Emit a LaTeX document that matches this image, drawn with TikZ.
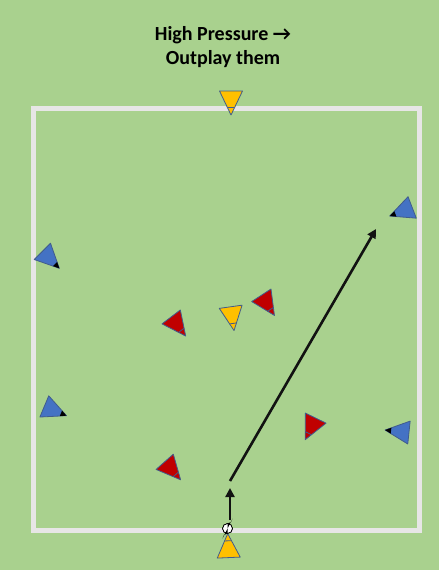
\documentclass[tikz,border=0pt]{standalone}
\usepackage{fontspec}
\setmainfont{Carlito}
\usetikzlibrary{arrows.meta}
\definecolor{grass}{RGB}{169,209,142}
\definecolor{chalk}{RGB}{231,230,230}
\definecolor{edge}{RGB}{65,92,140}
\definecolor{teamred}{RGB}{192,0,0}
\definecolor{teamyellow}{RGB}{255,192,0}
\definecolor{teamblue}{RGB}{68,114,196}
\tikzset{%
  pitch/.style  = {draw = chalk, line width = 5pt}, % Field lines
  plyr/.style   = {draw = edge, line width = 0.8pt, line join = round},
  run/.style    = {draw = black!93, line width = 2.6pt,
    -{Triangle[length = 9pt, width = 9pt]}}, % Movement
  title/.style  = {align = center, font = \fontsize{20}{24}\selectfont\bfseries}
}
% player with a line near its tip
\newcommand{\player}[4]{%
  \begin{scope}[shift = {(#2)}, rotate = #3]
    \coordinate (#1) at (0,0);
    \draw[plyr, fill = #4] (16,0) -- (-8,11.5) -- (-8,-11.5) -- cycle;
    \draw[plyr] (8.8,3.45) -- (8.8,-3.45);
  \end{scope}}
% player with a black tip
\newcommand{\outside}[3]{%
  \begin{scope}[shift = {(#2)}, rotate = #3]
    \coordinate (#1) at (0,0);
    \draw[plyr, fill = teamblue] (16,0) -- (-8,11.5) -- (-8,-11.5) -- cycle;
    \fill[black] (16,0) -- (10,2.9) -- (10,-2.9) -- cycle;
  \end{scope}}

\begin{document}
\begin{tikzpicture}[x = 1pt, y = -1pt]
\fill[grass] (0,0) rectangle (439,570);
\useasboundingbox (0,0) rectangle (439,570);
%field
\draw[pitch] (33.5,108.5) rectangle (419,530);
\node[title] (head) at (223,47) {High Pressure →\\Outplay them};
%players
\player{ytop}{231,99}{-90}{teamyellow}
\outside{bone}{404.7,210.3}{-159}
\outside{btwo}{48,257}{-45}
\player{rone}{176,323.3}{-52.8}{teamred}
\player{ymid}{231.8,314.7}{-82}{teamyellow}
\player{rtwo}{265.7,302}{-57}{teamred}
\outside{bthree}{51.7,409.5}{-22.7}
\player{rthree}{312.2,425.3}{-116}{teamred}
\outside{bfour}{401,431.7}{174}
\player{rfour}{170,467.8}{-48.5}{teamred}
\player{ybot}{228.4,549.6}{92.5}{teamyellow}
%ball
\draw[black, fill = white, line width = 0.6pt] (227.5,528.5) coordinate (ball) circle (5);
\fill[black] (ball) -- ++(0,-5) arc (90:0:5) -- cycle;
\fill[black] (ball) -- ++(0,5) arc (-90:-180:5) -- cycle;
\draw[black, line width = 0.6pt] (ball) circle (5);
%runs
\coordinate (dribble) at (230,520);
\coordinate (dribbleend) at (230,488);
\coordinate (runstart) at (230,481);
\coordinate (runend) at (376,229);
\draw[run] (dribble) -- (dribbleend);
\draw[run] (runstart) -- (runend);
\end{tikzpicture}
\end{document}
